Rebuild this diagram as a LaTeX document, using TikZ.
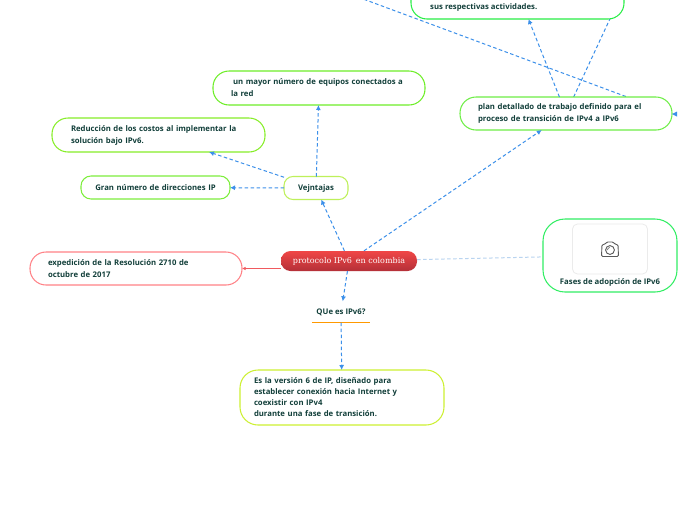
\documentclass[tikz,border=0pt]{standalone}
\usepackage{fontspec}
\setmainfont{Open Sans}[BoldFont={Open Sans Bold}]
\newfontfamily\slabfont{DejaVu Serif}
\usetikzlibrary{arrows.meta,backgrounds}
\definecolor{ink}{HTML}{123F3A}
\definecolor{link}{HTML}{3C90EA}
\tikzset{
  x=1pt,y=-1pt,
  box/.style={draw,fill=white,line width=1.05pt,rounded corners=16pt,inner ysep=0pt,outer sep=0pt,
    text=ink,align=left,font=\fontsize{7.75}{12}\selectfont\bfseries},
  conn/.style={draw=link,line width=1pt,dash pattern=on 3.5pt off 2.5pt,-{Latex[length=5pt,width=5pt]}},
  plainconn/.style={draw=link,line width=1pt,dash pattern=on 3.5pt off 2.5pt},
  lbl/.style={text=ink,font=\fontsize{7.75}{12}\selectfont\bfseries,inner sep=0pt},
}
\begin{document}
\begin{tikzpicture}
\useasboundingbox (0,0) rectangle (697,520);
\begin{scope}[on background layer]
\fill[white] (0,0) rectangle (697,520);
\end{scope}
% nodes
\node[box,draw={rgb,255:red,40;green,238;blue,70},inner xsep=19pt,text width=175pt,minimum height=55pt] (top) at (517.5,-8.5) {};
\node[lbl,anchor=west] (toptxt) at (430,7.5) {sus respectivas actividades.};
\node[box,draw={rgb,255:red,110;green,238;blue,70},inner xsep=18pt,text width=176pt,minimum height=33pt] (plan) at (566,113.5) {plan detallado de trabajo definido para el\\proceso de transición de IPv4 a IPv6};
\node[box,draw={rgb,255:red,110;green,238;blue,40},inner xsep=18pt,text width=176pt,minimum height=34pt] (mayor) at (319,88) {\hspace*{2pt}un mayor número de equipos conectados a\\la red};
\node[box,draw={rgb,255:red,135;green,238;blue,40},inner xsep=19pt,text width=175pt,minimum height=34pt] (redu) at (158.5,135) {Reducción de los costos al implementar la\\solución bajo IPv6.};
\node[box,draw={rgb,255:red,125;green,238;blue,60},rounded corners=10pt,inner xsep=0pt,text width=149pt,align=center,minimum height=23pt] (gran) at (155.5,187.5) {Gran número de direcciones IP};
\node[box,draw={rgb,255:red,190;green,240;blue,90},rounded corners=9pt,inner xsep=0pt,text width=64pt,align=center,minimum height=23pt] (vent) at (316,188) {Vejntajas};
\node[draw=none,rounded corners=9.5pt,top color={rgb,255:red,240;green,70;blue,70},bottom color={rgb,255:red,180;green,48;blue,56},minimum width=136pt,minimum height=20pt,inner sep=0pt,text=white!95!pink,font=\fontsize{8}{9}\slabfont] (center) at (349,261) {protocolo IPv6\, en colombia};
\node[box,draw={rgb,255:red,255;green,130;blue,135},inner xsep=18pt,text width=176pt,minimum height=33pt] (exped) at (136,268.5) {expedición de la Resolución 2710 de\\octubre de 2017};
\node[lbl,minimum width=58pt,minimum height=20pt] (que) at (341,312.5) {QUe es IPv6?};
\draw[orange!80!yellow,line width=1.1pt] (que.south west) -- (que.south east);
\node[box,draw={rgb,255:red,205;green,240;blue,50},rounded corners=18pt,inner xsep=14pt,text width=176pt,minimum height=55pt,font=\fontsize{7.75}{11}\selectfont\bfseries] (es) at (342,397.5) {Es la versión 6 de IP, diseñado para\\establecer conexión hacia Internet y\\coexistir con IPv4\\durante una fase de transición.};
\node[box,draw={rgb,255:red,50;green,238;blue,100},rounded corners=22pt,inner xsep=0pt,minimum width=134pt,minimum height=73pt] (fases) at (610,255.5) {};
\node[draw=black!8,fill=white,line width=.8pt,rounded corners=5pt,minimum width=75pt,minimum height=50pt,inner sep=0pt] (photo) at (610,249) {};
\node[lbl] (fasestxt) at (610,282) {Fases de adopción de IPv6};
% camera icon
\draw[black!65,line width=.9pt,rounded corners=1.3pt,line join=round]
  (602,244.5) -- (605,244.5) -- (606.5,242) -- (613.5,242) -- (615,244.5) -- (618,244.5) -- (618.5,256.5) -- (601.5,256.5) -- cycle;
\draw[black!65,line width=.9pt] (610,250) circle (4.4pt);
\draw[black!65,line width=.6pt] (607.5,250) arc[start angle=180,end angle=100,radius=2.6pt];
% connectors
\coordinate (offA) at (347,-7);
\coordinate (tipR) at (673,114);
\coordinate (offB) at (628,-20);
\begin{scope}[on background layer]
\clip (0,0) rectangle (697,520);
\draw[plainconn] (offA) -- (tipR);
\draw[plainconn] (plan) -- (offB);
\draw[draw={rgb,255:red,240;green,90;blue,95},line width=.9pt,{Latex[length=3.5pt,width=3.5pt]}-] (exped.east) -- (exped.east -| center.west);
\end{scope}
\fill[link] (tipR) ++(-1,0) -- ++(5,-2.5) -- ++(0,5) -- cycle;
\draw[conn] (center) -- (vent);
\draw[conn] (center) -- (plan);
\draw[conn,draw={rgb,255:red,185;green,212;blue,240},-] (center) -- (fases);
\draw[conn,shorten >=1pt] (center) -- (que);
\draw[conn] (que) -- (es);
\draw[conn] (vent) -- (gran);
\draw[conn] (vent) -- (redu);
\draw[conn] (vent) -- (mayor);
\draw[conn] (plan) -- (top);
\end{tikzpicture}
\end{document}
